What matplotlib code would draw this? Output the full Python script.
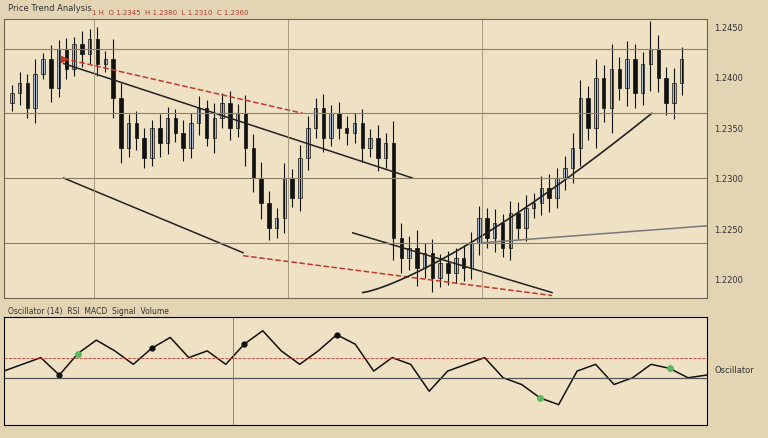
import numpy as np
import matplotlib
matplotlib.use("Agg")
from matplotlib import pyplot as plt

# candle closes (chart units: higher = up)
closes = [205, 215, 190, 225, 240, 210, 250, 230, 255, 245, 260, 235, 240, 200, 150,
          175, 160, 140, 170, 155, 180, 165, 150, 175, 190, 160, 180, 195, 170, 185,
          150, 120, 95, 70, 80, 120, 100, 140, 170, 190, 160, 185, 170, 165, 175, 150,
          160, 140, 155, 60, 40, 50, 30, 45, 20, 35, 25, 40, 30, 55, 80, 60, 75, 50,
          85, 70, 90, 95, 110, 100, 120, 130, 150, 200, 170, 220, 190, 230, 210, 240,
          205, 235, 250, 220, 195, 215, 240]
wicks = [8, 12, 10, 15, 6, 14, 9, 11, 7, 13, 10, 12, 8, 20, 15, 9, 12, 10, 8, 14,
         11, 9, 13, 10, 12, 8, 15, 10, 12, 9, 18, 14, 16, 12, 10, 15, 9, 13, 12, 10,
         14, 8, 11, 12, 10, 14, 9, 13, 10, 22, 15, 12, 18, 10, 14, 9, 12, 10, 13, 11,
         12, 10, 14, 9, 12, 11, 13, 10, 12, 14, 10, 12, 15, 18, 12, 20, 14, 25, 12, 18,
         15, 12, 28, 14, 12, 16, 12]
opens = [closes[0] - 10] + closes[:-1]

# oscillator
osc = [-5, 0, 5, -8, 8, 18, 10, 0, 12, 20, 5, 10, 0, 15, 25, 10, 0, 10, 22, 15,
       -5, 5, 0, -20, -5, 0, 5, -10, -15, -25, -30, -5, 0, -15, -10, 0, -3, -10, -8]

# decorative lines [x0, y0, x1, y1, color, style]
lines = [(60, 235, 410, 120, "#222222", "-"),
         (60, 240, 300, 185, "#c0392b", "--"),
         (60, 120, 240, 45, "#222222", "-"),
         (240, 42, 550, 2, "#c0392b", "--"),
         (350, 65, 550, 5, "#222222", "-"),
         (480, 55, 705, 72, "#777777", "-")]

bg = "#efe2c4"
fig = plt.figure(figsize=(7.68, 4.39), dpi=100, facecolor="#e3d5b3")
ax = fig.add_axes([0.005, 0.32, 0.915, 0.635], facecolor=bg)
n = len(closes)
xs = np.linspace(8, 680, n)
for x, o, c, w in zip(xs, opens, closes, wicks):
    hi, lo = max(o, c) + w, min(o, c) - w
    ax.vlines(x, lo, hi, color="#111111", lw=0.8)
    col = "#111111" if c < o else "#b8c4d8"
    ax.bar(x, max(abs(c - o), 2), bottom=min(o, c), width=3.5,
           color=col, edgecolor="#111111", lw=0.5)
for x0, y0, x1, y1, c, s in lines:
    ax.plot([x0, x1], [y0, y1], color=c, ls=s, lw=1.1)
ax.plot([60], [240], marker=">", color="#c0392b", ms=5)
# rising curve
t = np.linspace(0, 1, 50)
ax.plot(360 + 290 * t, 5 + 180 * t ** 1.3, color="#222222", lw=1.2)
for y in [250, 185, 120, 55]:
    ax.axhline(y, color="#8a7f66", lw=0.8)
for x in [90, 285, 480]:
    ax.axvline(x, color="#9a8f76", lw=0.6)
ax.set_xlim(0, 705)
ax.set_ylim(0, 280)
ax.set_xticks([]); ax.set_yticks([])
for sp in ax.spines.values():
    sp.set_color("#6d6450")

ax2 = fig.add_axes([0.005, 0.03, 0.915, 0.245], facecolor=bg)
ox = np.linspace(0, 705, len(osc))
ax2.plot(ox, osc, color="#111111", lw=1.1)
ax2.plot(ox[[3, 8, 13, 18]], np.array(osc)[[3, 8, 13, 18]], "o", color="#111111", ms=3.5)
ax2.plot(ox[[4, 29, 36]], np.array(osc)[[4, 29, 36]], "o", color="#5cb85c", ms=4)
ax2.axhline(-10, color="#555555", lw=0.9)
ax2.axhline(5, color="#c0392b", lw=0.6, ls="--")
ax2.axvline(230, color="#777777", lw=0.6)
ax2.set_xlim(0, 705)
ax2.set_ylim(-45, 35)
ax2.set_xticks([]); ax2.set_yticks([])

fig.text(0.01, 0.975, "Price Trend Analysis", fontsize=6, color="#333333")
fig.text(0.12, 0.965, "1 H  O 1.2345  H 1.2380  L 1.2310  C 1.2360", fontsize=5, color="#b03a2e")
labels = ["1.2450", "1.2400", "1.2350", "1.2300", "1.2250", "1.2200"]
for i, lab in enumerate(labels):
    fig.text(0.93, 0.93 - i * 0.115, lab, fontsize=6, color="#333333")
fig.text(0.01, 0.285, "Oscillator (14)  RSI  MACD  Signal  Volume", fontsize=5.5, color="#333333")
fig.text(0.93, 0.15, "Oscillator", fontsize=6, color="#333333")
fig.savefig("out.png", dpi=100, facecolor=fig.get_facecolor())
